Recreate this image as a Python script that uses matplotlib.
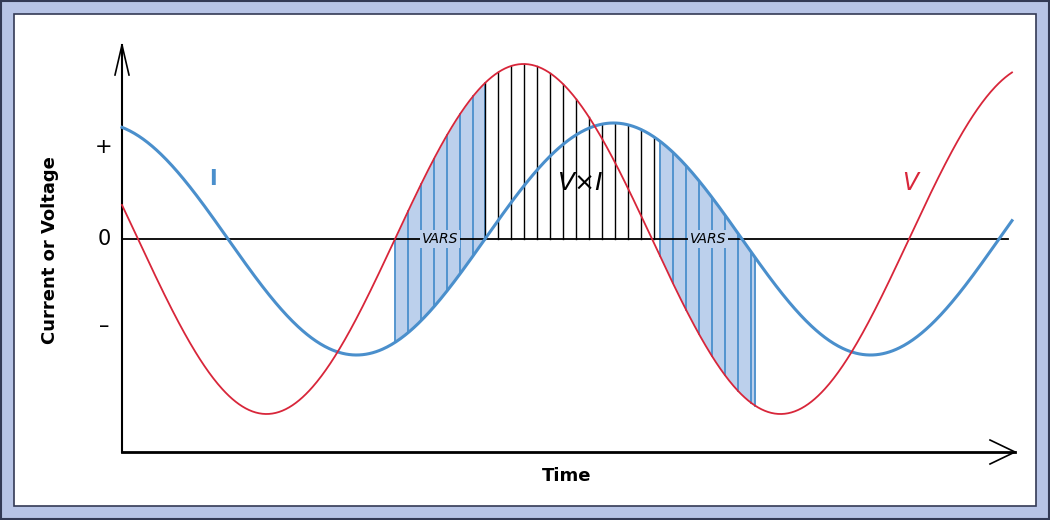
import numpy as np
import matplotlib
matplotlib.use("Agg")
import matplotlib.pyplot as plt
from matplotlib.patches import Rectangle

# wave parameters (pixel units of the reference picture)
ZERO_Y = 239
PERIOD = 514
V_AMP, V_ZERO_UP = 175, 395      # voltage: amplitude, upward zero crossing
I_AMP, I_ZERO_UP = 116, 485      # current lags voltage
X_START, X_END = 122, 1012
VARS1 = (395, 485)
VXI = (485, 660)
VARS2 = (660, 755)
STEP = 13
Y_TICKS = [147, 239, 326]
Y_TICK_LABELS = ["+", "0", "–"]

RED = "#d8263a"
BLUE = "#4a8fcc"
FILL = "#bcd0ec"


def v(x):
    return ZERO_Y - V_AMP * np.sin(2 * np.pi * (x - V_ZERO_UP) / PERIOD)


def i(x):
    return ZERO_Y - I_AMP * np.sin(2 * np.pi * (x - I_ZERO_UP) / PERIOD)


fig = plt.figure(figsize=(10.5, 5.2), dpi=100)
ax = fig.add_axes([0, 0, 1, 1])
ax.set_xlim(0, 1050); ax.set_ylim(520, 0); ax.axis("off")

# frame
ax.add_patch(Rectangle((1, 1), 1048, 518, fc="#b7c4e6", ec="#333a55", lw=1.5))
ax.add_patch(Rectangle((14, 14), 1022, 492, fc="white", ec="#333a55", lw=1.2))

# shaded VARS regions
for a, b in (VARS1, VARS2):
    xs = np.linspace(a, b, 200)
    ax.fill_between(xs, v(xs), i(xs), color=FILL, lw=0)
    for x in np.arange(a, b + 1, STEP):
        ax.plot([x, x], [v(x), i(x)], color=BLUE, lw=1.3)
    ax.plot([b, b], [v(b), i(b)], color=BLUE, lw=1.3)

# V x I region
for x in np.arange(VXI[0], VXI[1], STEP):
    top = min(v(x), i(x))
    ax.plot([x, x], [ZERO_Y, top], color="black", lw=1)

# axes
ax.plot([122, 122], [45, 452], color="black", lw=1.5)
ax.plot([122, 1015], [452, 452], color="black", lw=2)
ax.plot([115, 122, 129], [75, 45, 75], color="black", lw=1.2)
ax.plot([990, 1015, 990], [440, 452, 464], color="black", lw=1.2)
ax.plot([122, 1008], [ZERO_Y, ZERO_Y], color="black", lw=1.3)

xs = np.linspace(X_START, X_END, 800)
ax.plot(xs, i(xs), color=BLUE, lw=2.2)
ax.plot(xs, v(xs), color=RED, lw=1.3)

for y, t in zip(Y_TICKS, Y_TICK_LABELS):
    ax.text(104, y, t, ha="center", va="center", fontsize=15)

ax.text(50, 250, "Current or Voltage", rotation=90, ha="center", va="center",
        fontsize=13, fontweight="bold")
ax.text(567, 476, "Time", ha="center", va="center", fontsize=13, fontweight="bold")
ax.text(213, 179, "I", color=BLUE, ha="center", va="center", fontsize=15, fontweight="bold")
ax.text(910, 183, "V", color=RED, ha="center", va="center", fontsize=17, style="italic")
ax.text(580, 183, "V\u00d7I", ha="center", va="center", fontsize=18, style="italic")
for x in (440, 708):
    ax.text(x, ZERO_Y, "VARS", ha="center", va="center", fontsize=10, style="italic",
            bbox=dict(fc=FILL, ec="none", pad=1.5))

fig.savefig("out.png", dpi=100, facecolor="white")
